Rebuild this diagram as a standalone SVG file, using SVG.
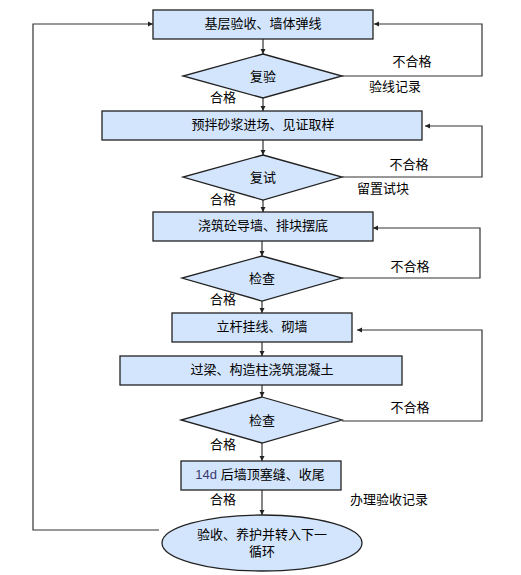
<svg xmlns="http://www.w3.org/2000/svg" width="521" height="575" viewBox="0 0 521 575">
<defs>
<style>
.n{fill:#d3e5fc;stroke:#222;stroke-width:1.3}
.c{fill:none;stroke:#333;stroke-width:1.2}
.t{font-family:"Liberation Sans","Noto Sans CJK SC",sans-serif;font-size:13px;fill:#000}
.m{text-anchor:middle}
</style>
<marker id="a" markerWidth="6" markerHeight="6" refX="5" refY="3" orient="auto" markerUnits="userSpaceOnUse">
<path d="M0,0.5 L5,3 L0,5.5 Z" fill="#222"/>
</marker>
</defs>
<rect width="521" height="575" fill="#fff"/>
<g id="connectors">
<line class="c" x1="263" y1="39" x2="263" y2="54" marker-end="url(#a)"/>
<line class="c" x1="263" y1="98" x2="263" y2="111" marker-end="url(#a)"/>
<line class="c" x1="263" y1="140" x2="263" y2="155" marker-end="url(#a)"/>
<line class="c" x1="263" y1="200" x2="263" y2="212" marker-end="url(#a)"/>
<line class="c" x1="262" y1="241" x2="262" y2="256" marker-end="url(#a)"/>
<line class="c" x1="262" y1="301" x2="262" y2="313" marker-end="url(#a)"/>
<line class="c" x1="262" y1="342" x2="262" y2="356" marker-end="url(#a)"/>
<line class="c" x1="262" y1="385" x2="262" y2="397" marker-end="url(#a)"/>
<line class="c" x1="262" y1="443" x2="262" y2="461" marker-end="url(#a)"/>
<line class="c" x1="262" y1="490" x2="262" y2="515" marker-end="url(#a)"/>
<polyline class="c" points="342,76 482,76 482,24 374,24" marker-end="url(#a)"/>
<polyline class="c" points="342,177 482,177 482,126 425,126" marker-end="url(#a)"/>
<polyline class="c" points="342,278 480,278 480,228 373,228" marker-end="url(#a)"/>
<polyline class="c" points="342,421 482,421 482,330 357,330" marker-end="url(#a)"/>
<polyline class="c" points="159,530 33,530 33,24 153,24" marker-end="url(#a)"/>
</g>
<g id="n1"><rect class="n" x="153" y="10" width="220" height="29"/><text class="t m" x="263" y="28">基层验收、墙体弹线</text></g>
<g id="d1"><polygon class="n" points="263,54 342,76 263,98 183,76"/><text class="t m" x="263" y="81">复验</text></g>
<g id="n2"><rect class="n" x="102" y="111" width="320" height="29"/><text class="t m" x="263" y="129">预拌砂浆进场、见证取样</text></g>
<g id="d2"><polygon class="n" points="263,155 342,177 263,200 183,177"/><text class="t m" x="263" y="182">复试</text></g>
<g id="n3"><rect class="n" x="153" y="212" width="220" height="29"/><text class="t m" x="263" y="230">浇筑砼导墙、排块摆底</text></g>
<g id="d3"><polygon class="n" points="262,256 342,278 262,301 182,278"/><text class="t m" x="262" y="283">检查</text></g>
<g id="n4"><rect class="n" x="172" y="313" width="180" height="29"/><text class="t m" x="262" y="331">立杆挂线、砌墙</text></g>
<g id="n5"><rect class="n" x="120" y="356" width="282" height="29"/><text class="t m" x="262" y="374">过梁、构造柱浇筑混凝土</text></g>
<g id="d4"><polygon class="n" points="262,397 342,420 262,443 181,420"/><text class="t m" x="262" y="425">检查</text></g>
<g id="n6"><rect class="n" x="181" y="461" width="160" height="29"/><text class="t m" x="260" y="479"><tspan fill="#3a3a70">14d</tspan> 后墙顶塞缝、收尾</text></g>
<g id="n7"><ellipse class="n" cx="262" cy="543" rx="100" ry="28"/><text class="t m" x="262" y="539">验收、养护并转入下一</text><text class="t m" x="262" y="556">循环</text></g>
<g id="labels">
<text class="t m" x="412" y="66">不合格</text>
<text class="t m" x="395" y="91">验线记录</text>
<text class="t m" x="223" y="102">合格</text>
<text class="t m" x="409" y="169">不合格</text>
<text class="t m" x="383" y="193">留置试块</text>
<text class="t m" x="223" y="204">合格</text>
<text class="t m" x="410" y="271">不合格</text>
<text class="t m" x="223" y="304">合格</text>
<text class="t m" x="410" y="412">不合格</text>
<text class="t m" x="223" y="449">合格</text>
<text class="t m" x="223" y="504">合格</text>
<text class="t m" x="389" y="504">办理验收记录</text>
</g>
</svg>
